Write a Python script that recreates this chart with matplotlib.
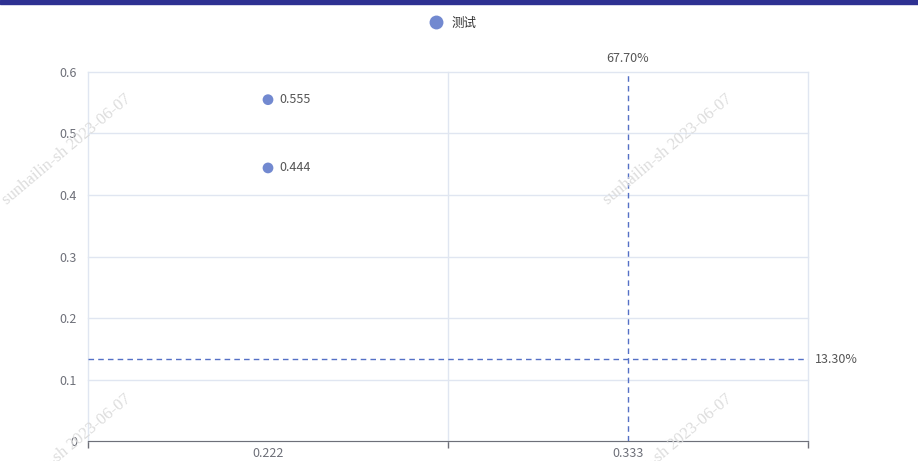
import matplotlib.pyplot as plt
from matplotlib.lines import Line2D

plt.rcParams['font.family'] = ['Noto Sans CJK SC', 'DejaVu Sans']

# data
categories = ['0.222', '0.333']
point_x = ['0.222', '0.222']
point_y = [0.555, 0.444]
series_name = '测试'
vline_cat = '0.333'
vline_label = '67.70%'
hline_y = 0.133
hline_label = '13.30%'
watermark = 'sunhailin-sh 2023-06-07'

W, H = 918, 461
fig = plt.figure(figsize=(W / 100, H / 100), dpi=100)
ax = fig.add_axes([88 / W, 20 / H, 720 / W, 369 / H])

grid_c = '#e0e6f1'
axis_c = '#6e7079'
dot_c = '#7289d0'
line_c = '#5470c6'

# watermark tiles
for cx in (67, 668):
    for cy in (150, 450):
        fig.text(cx / W, 1 - cy / H, watermark, rotation=40, ha='center', va='center',
                 family='Liberation Serif', fontsize=12, color='#dcdcdc', zorder=0)

ax.set_xlim(-0.5, len(categories) - 0.5)
ax.set_ylim(0, 0.6)
ax.set_yticks([0, 0.1, 0.2, 0.3, 0.4, 0.5, 0.6])
ax.set_yticklabels(['0', '0.1', '0.2', '0.3', '0.4', '0.5', '0.6'])
ax.tick_params(axis='y', length=0, pad=8, labelsize=9, labelcolor=axis_c)

bounds = [i - 0.5 for i in range(len(categories) + 1)]
ax.set_xticks(bounds)
ax.set_xticklabels([''] * len(bounds))
ax.tick_params(axis='x', which='major', length=5, color=axis_c, width=1)
ax.set_xticks(range(len(categories)), minor=True)
ax.set_xticklabels(categories, minor=True)
ax.tick_params(axis='x', which='minor', length=0, pad=4, labelsize=9, labelcolor=axis_c)

ax.grid(True, which='major', color=grid_c, linewidth=1)
for gl in ax.get_xgridlines() + ax.get_ygridlines():
    gl.set_clip_on(False)
ax.set_axisbelow(True)
for s in ('top', 'left', 'right'):
    ax.spines[s].set_visible(False)
ax.spines['bottom'].set_color(axis_c)
ax.patch.set_alpha(0)

xi = [categories.index(c) for c in point_x]
ax.scatter(xi, point_y, s=60, color=dot_c, zorder=3, edgecolors='none')
for x, y in zip(xi, point_y):
    ax.annotate(f'{y:.3f}', (x, y), xytext=(8, 0), textcoords='offset points',
                va='center', ha='left', fontsize=9, color='#555555')

vx = categories.index(vline_cat)
ax.axvline(vx, color=line_c, linestyle=(0, (4, 3)), linewidth=1, zorder=2)
ax.axhline(hline_y, color=line_c, linestyle=(0, (4, 3)), linewidth=1, zorder=2)
ax.annotate(vline_label, (vx, 0.6), xytext=(0, 5), textcoords='offset points',
            ha='center', va='bottom', fontsize=9, color='#555555', annotation_clip=False)
ax.annotate(hline_label, (len(categories) - 0.5, hline_y), xytext=(5, 0),
            textcoords='offset points', ha='left', va='center', fontsize=9,
            color='#555555', annotation_clip=False)

# legend
handle = Line2D([], [], marker='o', linestyle='none', markersize=10,
                markerfacecolor=dot_c, markeredgecolor='none')
fig.legend([handle], [series_name], loc='center', bbox_to_anchor=(450 / W, 1 - 23 / H),
           frameon=False, fontsize=9, handletextpad=0.3, labelcolor='#333333')

# top border
fig.add_artist(plt.Rectangle((0, 1 - 4 / H), 1, 4 / H, transform=fig.transFigure,
                             color='#2e3192', zorder=5))

fig.savefig('out.png', dpi=100)
